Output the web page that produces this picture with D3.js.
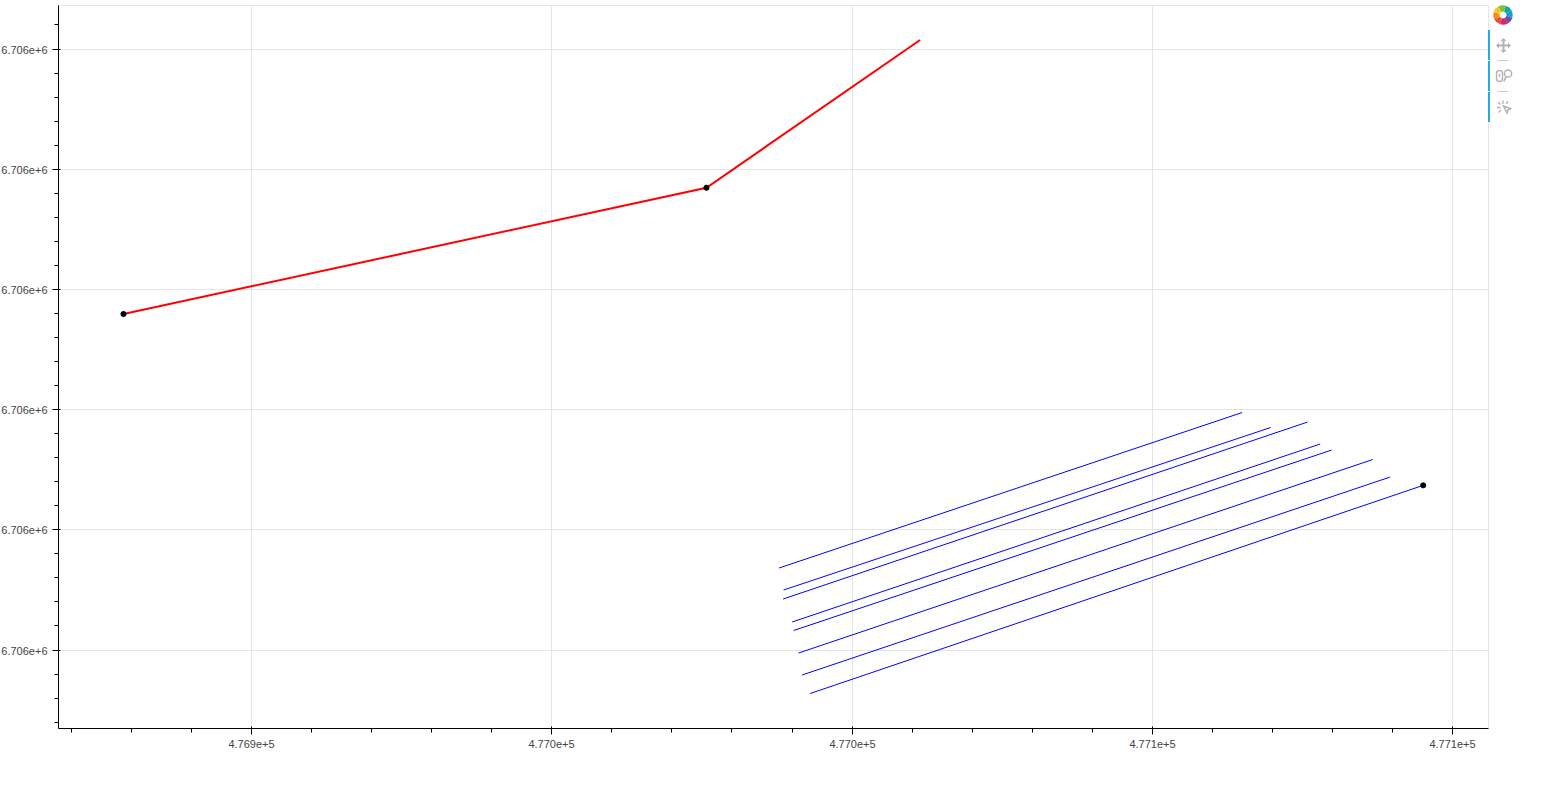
<!DOCTYPE html>
<html lang="en">
<head>
<meta charset="UTF-8">
<title>Lines</title>
<script src="https://cdn.jsdelivr.net/npm/d3@7"></script>
<style>
    html, body { margin: 0; padding: 0; background: #fff; overflow: hidden; }
    text { font-family: Helvetica, "Liberation Sans", Arial, sans-serif; font-size: 11px; fill: #444; }
</style>
</head>
<body>
<svg id="chart" width="1544" height="789"></svg>
<script>
    // tick values, all in map units
    let x_major = [476900, 476950, 477000, 477050, 477100]
    let x_minor = [476870, 476880, 476890, 476910, 476920, 476930, 476940, 476960, 476970, 476980, 476990,
        477010, 477020, 477030, 477040, 477060, 477070, 477080, 477090]
    let y_major = [6706000, 6706050, 6706100, 6706150, 6706200, 6706250]
    let y_minor = [6705970, 6705980, 6705990, 6706010, 6706020, 6706030, 6706040, 6706060, 6706070, 6706080, 6706090,
        6706110, 6706120, 6706130, 6706140, 6706160, 6706170, 6706180, 6706190, 6706210, 6706220, 6706230, 6706240, 6706260]

    // red path
    let red_x = [476878.68, 476975.75, 477011.32]
    let red_y = [6706139.77, 6706192.3, 6706253.74]

    // blue segments, one entry per line
    let blue_x0 = [476987.84, 476988.59, 476988.51, 476990.01, 476990.26, 476991.09, 476991.67, 476993.01]
    let blue_y0 = [6706034.11, 6706024.96, 6706021.21, 6706011.65, 6706008.11, 6705998.75, 6705989.60, 6705981.90]
    let blue_x1 = [477064.95, 477069.69, 477075.85, 477077.94, 477079.85, 477086.68, 477089.59, 477095.09]
    let blue_y1 = [6706098.79, 6706092.55, 6706094.84, 6706085.69, 6706083.19, 6706079.24, 6706071.96, 6706068.5]

    // black dots
    let dot_x = [476878.68, 476975.75, 477095.09]
    let dot_y = [6706139.77, 6706192.3, 6706068.5]

    let left = 58.5, right = 1488.5, top_ = 5.5, bottom = 728.5

    let x = d3.scaleLinear().domain([476867.86, 477105.96]).range([left, right])
    let y = d3.scaleLinear().domain([6705967.35, 6706268.1]).range([bottom, top_])

    let fmt = d => d.toExponential(3)
    // snap grid and ticks to the pixel like the canvas does
    let snap = v => Math.floor(v) + 0.5
    let svg = d3.select("#chart")

    // frame + grid
    svg.append("path")
        .attr("d", `M${left},${top_}H${right}V${bottom}`)
        .attr("fill", "none").attr("stroke", "#e5e5e5")

    svg.append("g").selectAll("line").data(x_major).join("line")
        .attr("x1", d => snap(x(d))).attr("x2", d => snap(x(d)))
        .attr("y1", top_).attr("y2", bottom)
        .attr("stroke", "#e5e5e5")
    svg.append("g").selectAll("line").data(y_major).join("line")
        .attr("x1", left).attr("x2", right)
        .attr("y1", d => snap(y(d))).attr("y2", d => snap(y(d)))
        .attr("stroke", "#e5e5e5")

    // lines
    let line = d3.line().x(d => x(d[0])).y(d => y(d[1]))
    svg.append("g").selectAll("path").data(blue_x0).join("path")
        .attr("d", (d, i) => line([[blue_x0[i], blue_y0[i]], [blue_x1[i], blue_y1[i]]]))
        .attr("fill", "none").attr("stroke", "blue").attr("stroke-width", 1)
    svg.append("path")
        .attr("d", line(red_x.map((d, i) => [d, red_y[i]])))
        .attr("fill", "none").attr("stroke", "red").attr("stroke-width", 2)
    svg.append("g").selectAll("circle").data(dot_x).join("circle")
        .attr("cx", d => x(d))
        .attr("cy", (d, i) => y(dot_y[i]))
        .attr("r", 2.7).attr("fill", "black").attr("stroke", "black").attr("stroke-width", 0.6)

    // axes
    let x_axis = svg.append("g").attr("transform", `translate(0,${bottom})`)
        .call(d3.axisBottom(x).offset(0).tickValues(x_major).tickFormat(fmt).tickSize(6).tickSizeOuter(0).tickPadding(4))
    x_axis.selectAll(".tick").attr("transform", d => `translate(${snap(x(d))},0)`)
    x_axis.selectAll(".tick line").attr("y1", -2)
    x_axis.selectAll(".tick text").attr("dy", "0.9em")
    let x_axis_minor = svg.append("g").attr("transform", `translate(0,${bottom})`)
        .call(d3.axisBottom(x).offset(0).tickValues(x_minor).tickFormat("").tickSize(4).tickSizeOuter(0))
    x_axis_minor.selectAll(".tick").attr("transform", d => `translate(${snap(x(d))},0)`)
    x_axis_minor.select(".domain").remove()

    let y_axis = svg.append("g").attr("transform", `translate(${left},0)`)
        .call(d3.axisLeft(y).offset(0).tickValues(y_major).tickFormat(fmt).tickSize(6).tickSizeOuter(0).tickPadding(5))
    y_axis.selectAll(".tick").attr("transform", d => `translate(0,${snap(y(d))})`)
    y_axis.selectAll(".tick line").attr("x1", 2)
    y_axis.selectAll(".tick text").attr("dy", "0.42em")
    let y_axis_minor = svg.append("g").attr("transform", `translate(${left},0)`)
        .call(d3.axisLeft(y).offset(0).tickValues(y_minor).tickFormat("").tickSize(4).tickSizeOuter(0))
    y_axis_minor.selectAll(".tick").attr("transform", d => `translate(0,${snap(y(d))})`)
    y_axis_minor.select(".domain").remove()

    svg.selectAll(".tick text").style("font-size", "11px").style("font-family", null)

    // toolbar
    let tools = svg.append("g")
    let logo_colors = ["#e8503e", "#f28c1e", "#f6c51b", "#7cc242", "#12a89d", "#1d9ad6", "#6a4ea1", "#d6246e"]
    let arc = d3.arc().innerRadius(3.5).outerRadius(9.8)
    let pie = d3.pie().value(1).sort(null).startAngle(-Math.PI + 0.3).endAngle(Math.PI + 0.3)(logo_colors)
    tools.append("g").attr("transform", "translate(1503,15)")
        .selectAll("path").data(pie).join("path")
        .attr("d", arc).attr("fill", (d, i) => logo_colors[i])

    let bar_y = [30, 61, 92]
    tools.selectAll("rect.active").data(bar_y).join("rect").attr("class", "active")
        .attr("x", 1488).attr("y", d => d).attr("width", 2).attr("height", 30).attr("fill", "#26aae1")
    tools.selectAll("line.sep").data([60.5, 91.5]).join("line").attr("class", "sep")
        .attr("x1", 1498).attr("x2", 1508).attr("y1", d => d).attr("y2", d => d)
        .attr("stroke", "#ccc")

    // pan icon
    tools.append("path").attr("fill", "none").attr("stroke", "#b3b3b3").attr("stroke-width", 2)
        .attr("d", "M1503.5,39.5V51.5M1497.5,45.5H1509.5")
    tools.append("path").attr("fill", "#b3b3b3")
        .attr("d", "M1503.5,38l3,3h-6zM1503.5,53l3,-3h-6zM1496,45.5l3,-3v6zM1511,45.5l-3,-3v6z")
    // wheel zoom icon
    tools.append("rect").attr("x", 1496.5).attr("y", 70.5).attr("width", 6).attr("height", 11).attr("rx", 3)
        .attr("fill", "none").attr("stroke", "#b3b3b3").attr("stroke-width", 1.4)
    tools.append("line").attr("x1", 1499.5).attr("x2", 1499.5).attr("y1", 73.5).attr("y2", 77)
        .attr("stroke", "#b3b3b3").attr("stroke-width", 1.4)
    tools.append("circle").attr("cx", 1508).attr("cy", 73.5).attr("r", 3.6)
        .attr("fill", "none").attr("stroke", "#b3b3b3").attr("stroke-width", 1.5)
    tools.append("line").attr("x1", 1506).attr("x2", 1503.8).attr("y1", 76.8).attr("y2", 81.5)
        .attr("stroke", "#b3b3b3").attr("stroke-width", 1.7)
    // tap icon
    tools.append("path").attr("fill", "none").attr("stroke", "#b3b3b3").attr("stroke-width", 1.3)
        .attr("d", "M1503,100.5V104M1498,102l2.5,2.5M1497,107.5h3.5M1498.5,112.5l2.5,-2.5M1508,101.5l-1.8,2.5")
    tools.append("path").attr("fill", "none").attr("stroke", "#b3b3b3").attr("stroke-width", 1.5)
        .attr("d", "M1503.5,106l7,2.5l-2.5,1.2l-1,3.3z")
</script>
</body>
</html>
